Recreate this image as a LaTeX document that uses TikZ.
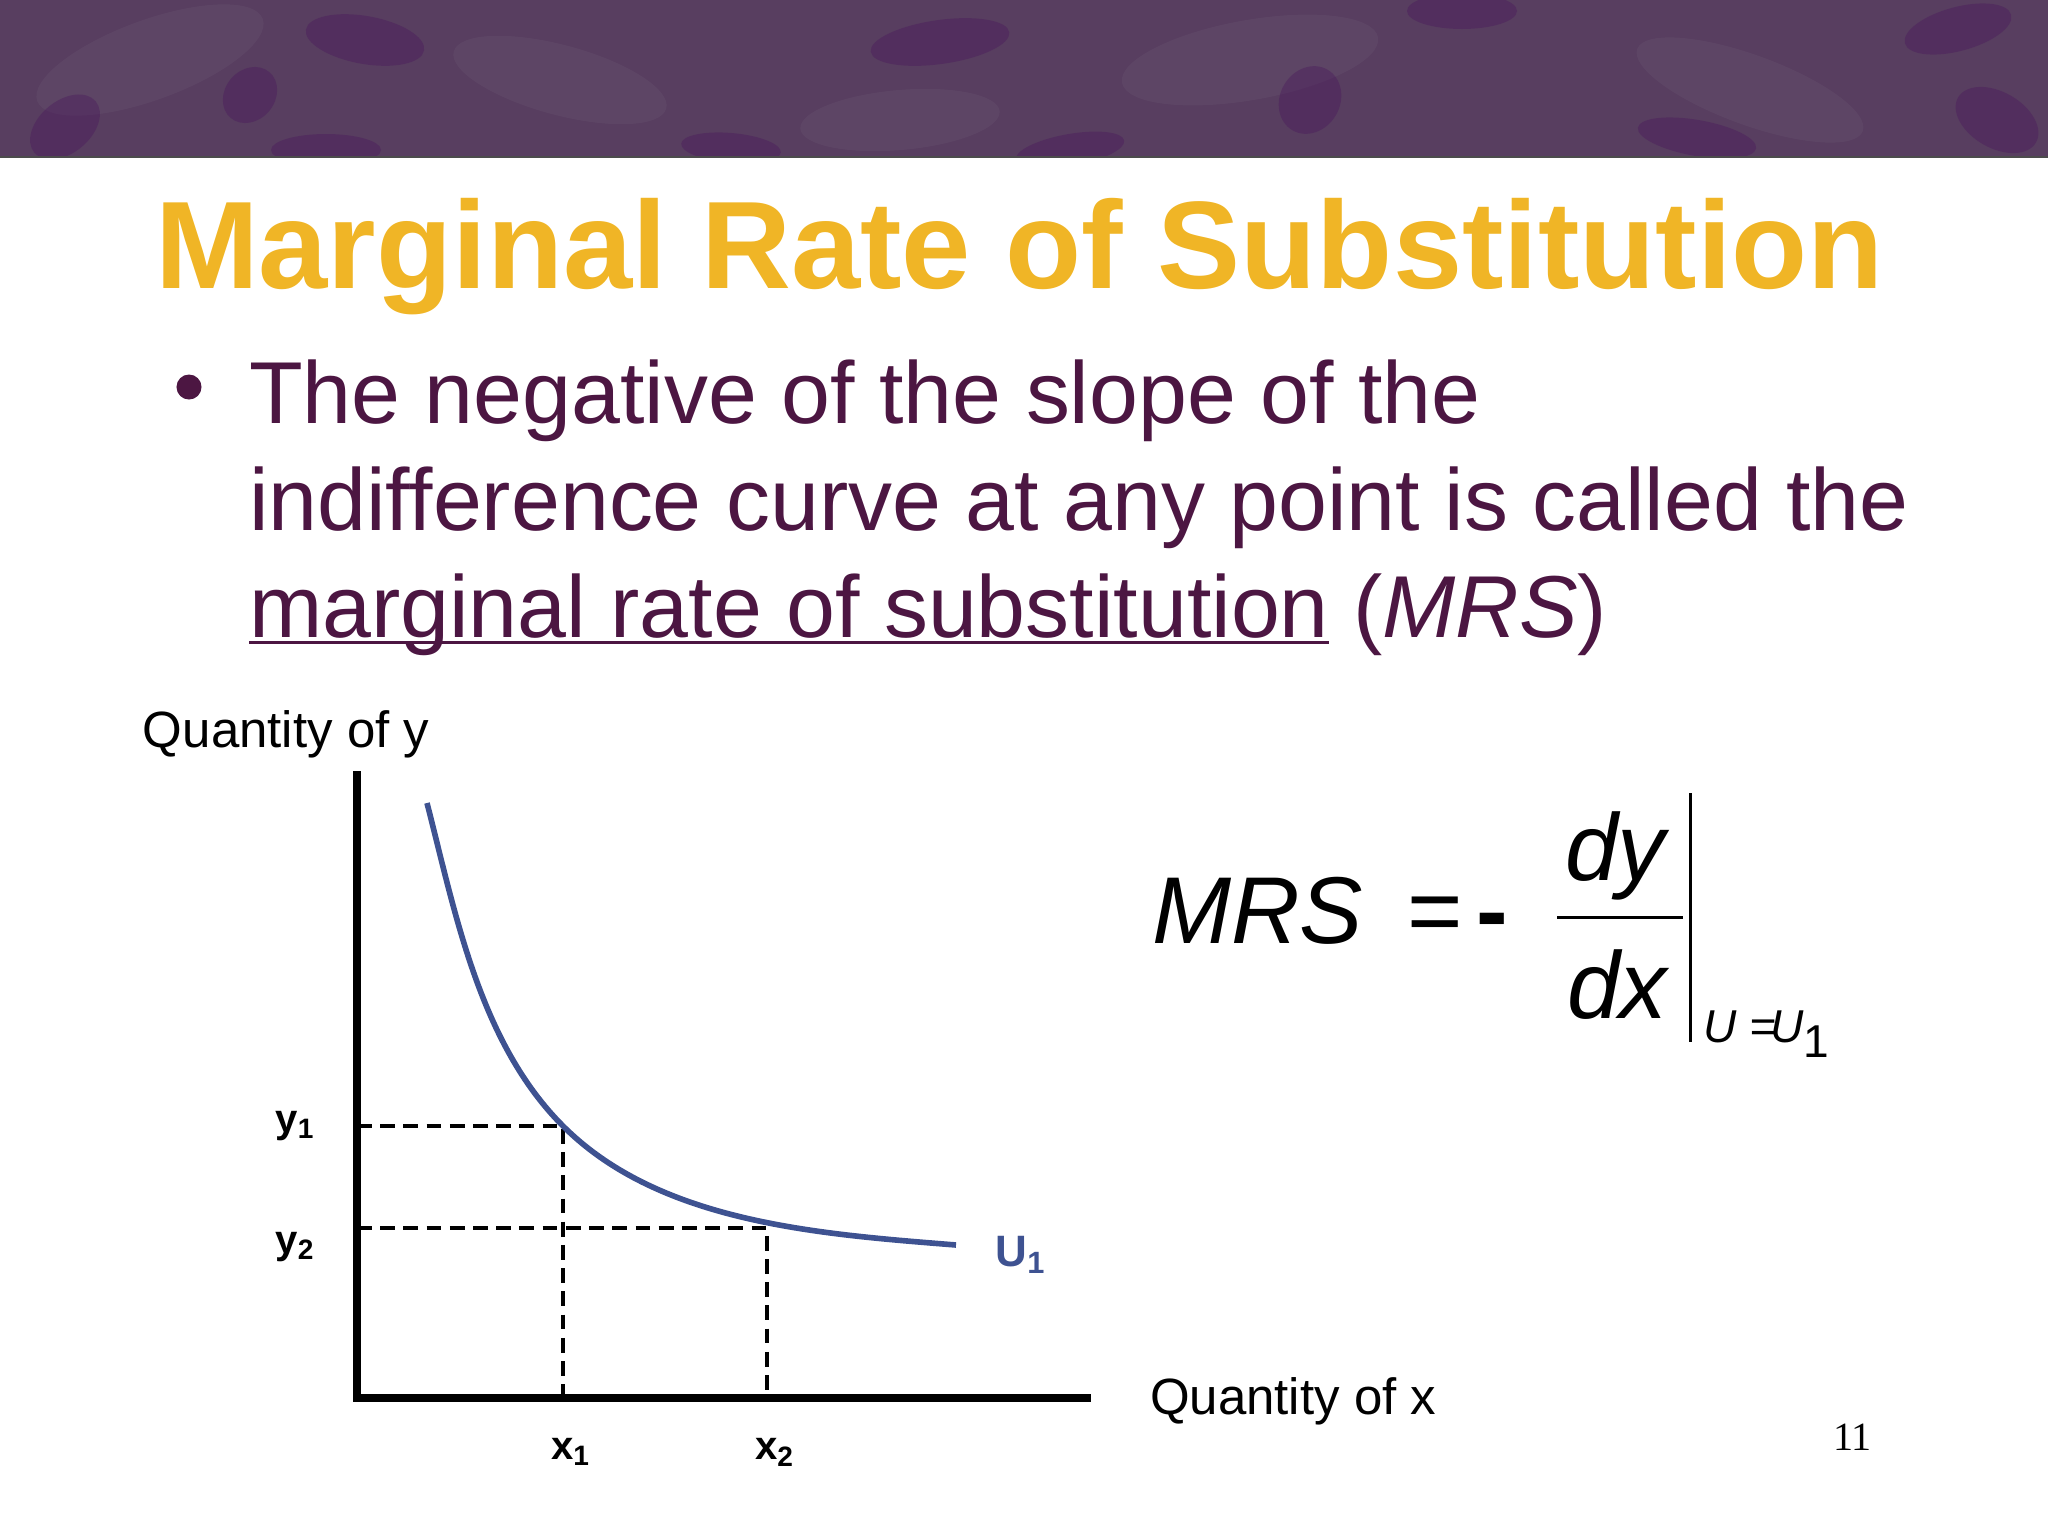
\documentclass[tikz,border=0pt]{standalone}
\usepackage{fontspec}
\setmainfont{Liberation Sans}
\newfontfamily\pagefont{Liberation Serif}
\usetikzlibrary{positioning}
\definecolor{titlegold}{RGB}{240,181,38}
\definecolor{textplum}{RGB}{76,22,66}
\definecolor{curveblue}{RGB}{62,82,145}
\definecolor{bannerbase}{RGB}{88,62,96}
\definecolor{bannerdark}{RGB}{74,24,92}
\definecolor{bannerlight}{RGB}{104,84,112}

\begin{document}
\begin{tikzpicture}[
    x=0.01cm, y=-0.01cm,
    txt/.style={anchor=base west, inner sep=0pt, outer sep=0pt},
    slidetitle/.style={txt, text=titlegold, font=\fontsize{35.4}{40}\selectfont\bfseries},
    body/.style={txt, text=textplum, font=\fontsize{25}{30}\selectfont},
    axlbl/.style={txt, font=\fontsize{14.5}{17}\selectfont},
    ticklbl/.style={inner sep=0pt, font=\fontsize{11.4}{13}\selectfont\bfseries},
    ulbl/.style={inner sep=0pt, text=curveblue, font=\fontsize{12.5}{14}\selectfont\bfseries},
    eq/.style={txt, font=\fontsize{27}{32}\selectfont},
    axisline/.style={line width=2.3pt},
    guide/.style={line width=0.9pt, dash pattern=on 4.2pt off 2.4pt},
    icurve/.style={curveblue, line width=1.6pt}
]
\useasboundingbox (0,0) rectangle (2048,1536);

% banner
\begin{scope}
  \clip (0,0) rectangle (2048,157);
  \fill[bannerbase] (0,0) rectangle (2048,157);
  \foreach \bx/\by/\rx/\ry/\rot in {150/60/120/40/20, 560/80/110/35/-15, 1250/60/130/40/10,
      1750/90/120/35/-20, 900/120/100/30/5}
    \fill[bannerlight, opacity=0.35, rotate around={\rot:(\bx,\by)}]
      (\bx,\by) ellipse [x radius={\rx*0.01cm}, y radius={\ry*0.01cm}];
  \foreach \bx/\by/\rx/\ry/\rot in {365/40/60/24/-10, 940/42/70/22/8, 1462/11/55/18/0, 1958/29/55/22/15,
      1997/120/45/28/-30, 65/127/40/26/40, 326/150/55/16/0, 731/148/50/15/-5, 1070/150/55/16/10,
      1697/138/60/18/-10, 1310/100/35/30/60, 250/95/25/30/-40}
    \fill[bannerdark, opacity=0.4, rotate around={\rot:(\bx,\by)}]
      (\bx,\by) ellipse [x radius={\rx*0.01cm}, y radius={\ry*0.01cm}];
\end{scope}
\draw[black!70, line width=0.4pt] (0,157) -- (2048,157);

% title and bullet
\node[slidetitle] (title) at (155,288) {Marginal Rate of Substitution};
\node[circle, fill=textplum, inner sep=0pt, minimum size=0.25cm] (dot) at (189,387) {};
\node[body] (line1) at (249,423) {The negative of the slope of the};
\node[body] (line2) at (249,530) {indifference curve at any point is called the};
\node[body] (term) at (249,637) {marginal rate of substitution};
\node[body] (abbr) at ([xshift=6.9pt]term.base east) {(\textit{MRS})};
\draw[textplum, line width=0.85pt] ([yshift=-1.7pt]term.base west) -- ([yshift=-1.7pt]term.base east);

% graph
\coordinate (O) at (357,1398);
\coordinate (ytop) at (357,771);
\coordinate (xend) at (1091,1398);
\coordinate (yone) at (357,1126);
\coordinate (ytwo) at (357,1228);
\coordinate (pone) at (563,1126);
\coordinate (ptwo) at (767,1228);
\coordinate (xone) at (563,1398);
\coordinate (xtwo) at (767,1398);
\coordinate (ustart) at (427,803);
\coordinate (uend) at (956,1245);

\draw[guide] (yone) -- (pone) -- (xone);
\draw[guide] (ytwo) -- (ptwo) -- (xtwo);
\draw[axisline] (ytop) -- (O) -- (xend);
\draw[icurve] (ustart) .. controls (456,916) and (480,1043) .. (pone)
    .. controls (660,1223) and (819,1234) .. (uend);

\node[axlbl] (ylab) at (143,747) {Quantity of y};
\node[axlbl] (xlab) at (1150,1414) {Quantity of x};
\node[ticklbl, left=0.41cm of yone] (ly1) {y\textsubscript{1}};
\node[ticklbl, left=0.41cm of ytwo, yshift=-0.19cm] (ly2) {y\textsubscript{2}};
\node[ticklbl, below=0.4cm of xone, xshift=0.08cm] (lx1) {x\textsubscript{1}};
\node[ticklbl, below=0.4cm of xtwo, xshift=0.08cm] (lx2) {x\textsubscript{2}};
\node[ulbl, right=0.39cm of uend, yshift=-0.1cm] (ulab) {U\textsubscript{1}};

% formula
\coordinate (barL) at (1557,917);
\coordinate (barR) at (1683,917);
\coordinate (vtop) at (1690,793);
\coordinate (vbot) at (1690,1042);
\node[eq, font=\fontsize{27}{32}\selectfont\itshape] (mrs) at (1152,943) {MRS};
\node[eq] (eqsign) at (1407,943) {=};
\node[eq] (minus) at (1476,943) {\bfseries -};
\node[eq, font=\fontsize{27}{32}\selectfont\itshape] (dy) at (1565,880) {dy};
\node[eq, font=\fontsize{27}{32}\selectfont\itshape] (dx) at (1567,1018) {dx};
\draw[line width=0.85pt] (barL) -- (barR);
\draw[line width=0.85pt] (vtop) -- (vbot);
\node[txt, font=\fontsize{13.1}{15}\selectfont] (cond) at (1703,1042)
    {\itshape U =\kern-0.12em U\upshape\raisebox{-4.5pt}{1}};

\node[txt, font=\fontsize{11.4}{13}\pagefont] (pgnum) at (1833,1450) {11};
\end{tikzpicture}
\end{document}
